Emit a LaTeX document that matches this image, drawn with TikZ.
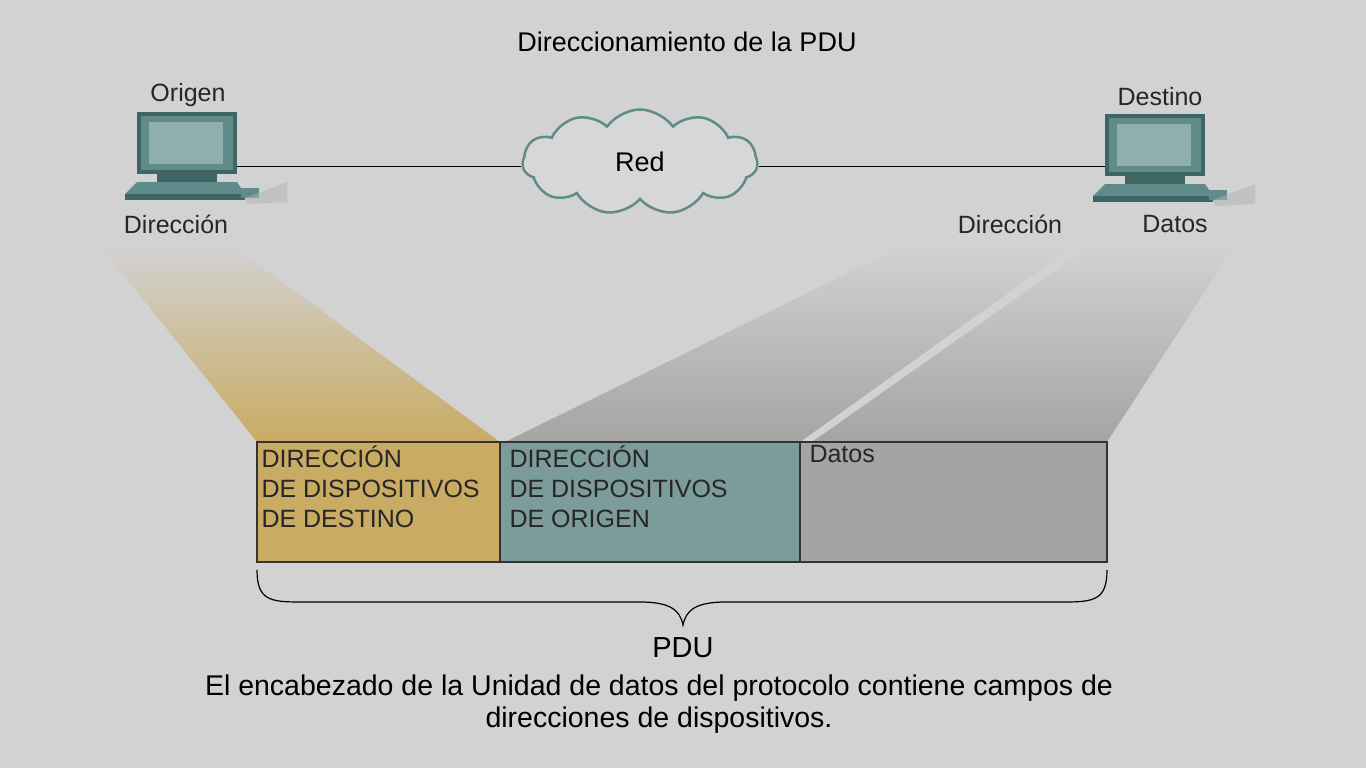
\documentclass[tikz,border=0pt]{standalone}
\usepackage{fontspec}
\setmainfont{Liberation Sans}
\usetikzlibrary{shapes.symbols,decorations.pathreplacing}
\definecolor{bg}{HTML}{D2D2D2}
\definecolor{gold}{HTML}{C9AB63}
\definecolor{teal}{HTML}{7B9C9A}
\definecolor{grayf}{HTML}{A4A4A4}
\definecolor{pc}{HTML}{5F8C8A}
\definecolor{pcd}{HTML}{3F6664}
\tikzset{lbl/.style={font=\fontsize{25}{28}\selectfont,text=black!85},
 cell/.style={draw=black!80,line width=1.2pt},
 celltxt/.style={font=\fontsize{25}{30}\selectfont,align=left,anchor=north west,text=black!85}}
\newcommand{\computer}[2]{%
 \begin{scope}[shift={(#1,#2)}]
  \fill[pcd] (0,0) rectangle (100,62);
  \fill[pc] (4,4) rectangle (96,58);
  \fill[pc!70!white] (12,10) rectangle (86,52);
  \fill[pcd] (20,62) rectangle (80,70);
  \fill[pc] (0,70) -- (100,70) -- (108,82) -- (-12,82) -- cycle;
  \fill[pcd] (-12,82) rectangle (108,88);
  \fill[pc] (104,76) rectangle (122,86);
  \fill[black!30,opacity=.5] (108,86) -- (150,70) -- (150,90) -- (110,92) -- cycle;
 \end{scope}}
\begin{document}
\begin{tikzpicture}[x=1pt,y=-1pt]
\useasboundingbox (0,0) rectangle (1366,768);
\fill[bg] (0,0) rectangle (1366,768);
% beams
\shade[top color=bg, bottom color=gold] (100,245) -- (232,245) -- (500,442) -- (257,442) -- cycle;
\shade[top color=bg, bottom color=grayf] (905,245) -- (1075,245) -- (800,442) -- (505,442) -- cycle;
\shade[top color=bg, bottom color=grayf] (1092,245) -- (1235,245) -- (1107,442) -- (812,442) -- cycle;
% title
\node[font=\fontsize{27}{30}\selectfont] (title) at (687,42) {Direccionamiento de la PDU};
% computers
\computer{137}{112}
\computer{1105}{114}
\node[lbl] (orig) at (188,95) {Origen};
\node[lbl] (dest) at (1160,97) {Destino};
\coordinate (pcL) at (237,166);
\coordinate (pcR) at (1105,166);
\node[cloud, cloud puffs=11, cloud puff arc=110, aspect=2.3, draw=pc, line width=2.5pt, fill=bg!90!white, minimum width=235pt, minimum height=105pt, font=\fontsize{27}{30}\selectfont] (red) at (640,162) {Red};
\draw[line width=1pt] (pcL) -- (pcL -| red.west);
\draw[line width=1pt] (pcR -| red.east) -- (pcR);
\node[lbl] (d1) at (176,224) {Dirección};
\node[lbl] (d2) at (1010,224) {Dirección};
\node[lbl] (d3) at (1175,224) {Datos};
% cells
\draw[cell,fill=gold] (257,442) rectangle (500,562);
\draw[cell,fill=teal] (500,442) rectangle (800,562);
\draw[cell,fill=grayf] (800,442) rectangle (1107,562);
\node[celltxt] (c1) at (258,442) {DIRECCIÓN\\DE DISPOSITIVOS\\DE DESTINO};
\node[celltxt] (c2) at (506,442) {DIRECCIÓN\\DE DISPOSITIVOS\\DE ORIGEN};
\node[celltxt] (c3) at (806,442) {Datos};
% brace
\draw[line width=1.2pt] (257,570) .. controls (257,600) and (270,602) .. (300,602) -- (640,602) .. controls (670,602) and (680,610) .. (683,625) .. controls (686,610) and (696,602) .. (726,602) -- (1064,602) .. controls (1094,602) and (1107,600) .. (1107,570);
\node[font=\fontsize{29}{32}\selectfont] (pdu) at (683,648) {PDU};
\node[font=\fontsize{28.5}{32}\selectfont, align=center] (cap) at (659,704) {El encabezado de la Unidad de datos del protocolo contiene campos de\\direcciones de dispositivos.};
\end{tikzpicture}
\end{document}
